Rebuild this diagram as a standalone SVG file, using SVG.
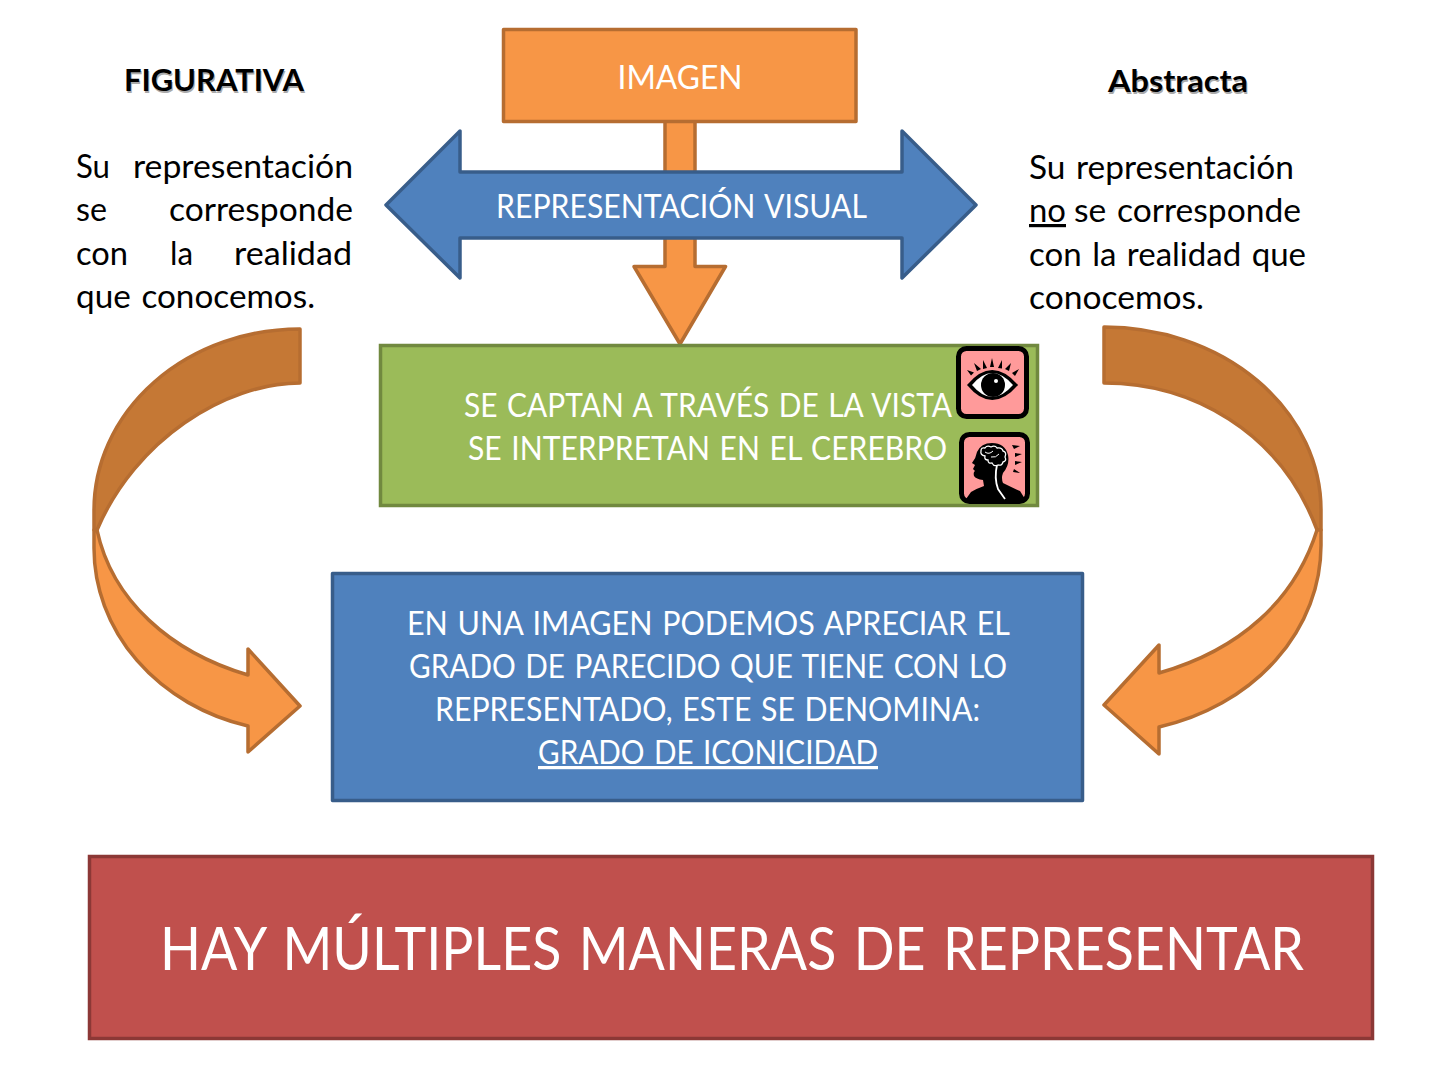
<svg xmlns="http://www.w3.org/2000/svg" width="1437" height="1078" viewBox="0 0 1437 1078">
<style>
text{font-family:Lato,"Open Sans","Liberation Sans",sans-serif;word-spacing:2px}
.w{fill:#fff;font-size:32px}
.k{fill:#000;font-size:32px}
.h{fill:#000;font-size:30px;font-weight:bold;}
.sh{fill:#aaa;font-size:30px;font-weight:bold;}
.or{fill:#F79646;stroke:#B66D31;stroke-width:3.5;stroke-linejoin:round}
.dk{fill:#C57835;stroke:#B66D31;stroke-width:3.5;stroke-linejoin:round}
.bl{fill:#4F81BD;stroke:#385D8A;stroke-width:3.5;stroke-linejoin:round}
.gr{fill:#9BBB59;stroke:#71893F;stroke-width:3.5}
.rd{fill:#C0504D;stroke:#8C3836;stroke-width:3.5}
.ic{fill:#FF9A9A;stroke:#000;stroke-width:5}
</style>
<rect width="1437" height="1078" fill="#fff"/>
<g id="connectors">
<path class="or" d="M665,121V266.500H634L680,344L725.500,266.500H695V121Z"/>
<path class="dk" d="M300,329A206,181 0 0 0 94,510V530H97C135,440 225,383 300,383Z"/>
<path class="or" d="M94,530V548A206,184 0 0 0 248,726V752L300,706L248,649V675C170,652 112,600 97,530Z"/>
<path class="dk" d="M1104,327A217,183 0 0 1 1321,510V530H1317C1280,430 1190,383 1104,383Z"/>
<path class="or" d="M1321,530V545A217,188 0 0 1 1159,727V754L1104,705L1159,645V673C1240,650 1295,600 1317,530Z"/>
</g>
<g id="imagen">
<rect class="or" x="503.500" y="29.500" width="352.500" height="92"/>
<text class="w" x="617.500" y="89" textLength="125" lengthAdjust="spacingAndGlyphs">IMAGEN</text>
</g>
<g id="representacion">
<path class="bl" d="M386,205L460,131V172H902V131L976,205L902,278V238H460V278Z"/>
<text class="w" x="496" y="218" textLength="371" lengthAdjust="spacingAndGlyphs">REPRESENTACIÓN VISUAL</text>
</g>
<g id="figurativa">
<text class="sh" x="125" y="93" textLength="180" lengthAdjust="spacingAndGlyphs">FIGURATIVA</text>
<text class="h" x="124" y="91" textLength="180" lengthAdjust="spacingAndGlyphs">FIGURATIVA</text>
<text class="k" x="76" y="178" textLength="34" lengthAdjust="spacingAndGlyphs">Su</text>
<text class="k" x="133" y="178" textLength="220" lengthAdjust="spacingAndGlyphs">representación</text>
<text class="k" x="76" y="221" textLength="31" lengthAdjust="spacingAndGlyphs">se</text>
<text class="k" x="169" y="221" textLength="184" lengthAdjust="spacingAndGlyphs">corresponde</text>
<text class="k" x="76" y="265" textLength="52" lengthAdjust="spacingAndGlyphs">con</text>
<text class="k" x="170" y="265" textLength="23" lengthAdjust="spacingAndGlyphs">la</text>
<text class="k" x="234" y="265" textLength="118" lengthAdjust="spacingAndGlyphs">realidad</text>
<text class="k" x="76" y="308" textLength="239" lengthAdjust="spacingAndGlyphs">que conocemos.</text>
</g>
<g id="abstracta">
<text class="sh" x="1109" y="94" textLength="140" lengthAdjust="spacingAndGlyphs">Abstracta</text>
<text class="h" x="1108" y="92" textLength="140" lengthAdjust="spacingAndGlyphs">Abstracta</text>
<text class="k" x="1029" y="179" textLength="265" lengthAdjust="spacingAndGlyphs">Su representación</text>
<text class="k" x="1029" y="222" textLength="37" lengthAdjust="spacingAndGlyphs" text-decoration="underline">no</text>
<text class="k" x="1074" y="222" textLength="227" lengthAdjust="spacingAndGlyphs">se corresponde</text>
<text class="k" x="1029" y="266" textLength="277" lengthAdjust="spacingAndGlyphs">con la realidad que</text>
<text class="k" x="1029" y="309" textLength="175" lengthAdjust="spacingAndGlyphs">conocemos.</text>
</g>
<g id="vista">
<rect class="gr" x="380.500" y="345.500" width="657" height="160"/>
<text class="w" x="464" y="417" textLength="488" lengthAdjust="spacingAndGlyphs">SE CAPTAN A TRAVÉS DE LA VISTA</text>
<text class="w" x="468" y="460" textLength="479" lengthAdjust="spacingAndGlyphs">SE INTERPRETAN EN EL CEREBRO</text>
</g>
<g id="icono-ojo">
<rect class="ic" x="958.500" y="348.500" width="68" height="68" rx="8"/>
<path d="M967,385Q992,355 1018,385Q992,415 967,385Z" fill="#000"/>
<path d="M972,385Q992,361 1013,385Q992,409 972,385Z" fill="#fff"/>
<circle cx="993" cy="385" r="12" fill="#000"/>
<circle cx="996" cy="381" r="2" fill="#fff"/>
<path d="M967,370L974,372.500L971,375.500ZM974,363L981,369L977,371ZM983,360L987,368L983,369ZM992,358L994,367L990,367ZM1002,360L1002,368.500L998,368ZM1011,363L1009,371L1005,369ZM1019,369L1015,376L1012,373Z" fill="#000"/>
</g>
<g id="icono-cerebro">
<rect class="ic" x="961.500" y="434.500" width="66" height="67" rx="8"/>
<path d="M966,499L971,492Q978,488 984,486L983,480Q976,479 974,476Q973,472 975,471L973,469L975,465L972,463Q976,458 977,452Q981,443 992,443Q1005,443 1008,455Q1010,465 1003,473Q1001,478 1003,483Q1013,488 1020,491L1025,499Z" fill="#000"/>
<path d="M981,451Q981,447 985,448Q987,445 991,447Q995,445 997,448Q1002,447 1003,451Q1007,452 1005,457Q1007,461 1003,462Q1002,466 998,465Q994,467 992,463Q988,464 988,460Q984,460 985,456Q980,455 981,451Z" fill="none" stroke="#fff" stroke-width="1.300"/>
<path d="M985,452Q989,455 993,451M991,457Q996,458 999,454" fill="none" stroke="#fff" stroke-width="1"/>
<path d="M997,465Q994,478 998,489L1005,499" fill="none" stroke="#fff" stroke-width="1.800"/>
<path d="M1012,445L1020,446L1014,449ZM1015,453L1022,454L1015,457ZM1015,461L1022,462L1015,465ZM1014,469L1020,473L1013,472Z" fill="#000"/>
</g>
<g id="iconicidad">
<rect class="bl" x="332.500" y="573.500" width="750" height="227"/>
<text class="w" x="407" y="635" textLength="603" lengthAdjust="spacingAndGlyphs">EN UNA IMAGEN PODEMOS APRECIAR EL</text>
<text class="w" x="409" y="678" textLength="598" lengthAdjust="spacingAndGlyphs">GRADO DE PARECIDO QUE TIENE CON LO</text>
<text class="w" x="435" y="721" textLength="545" lengthAdjust="spacingAndGlyphs">REPRESENTADO, ESTE SE DENOMINA:</text>
<text class="w" x="538" y="764" textLength="340" lengthAdjust="spacingAndGlyphs" text-decoration="underline">GRADO DE ICONICIDAD</text>
</g>
<g id="maneras">
<rect class="rd" x="89.500" y="856.500" width="1283" height="182"/>
<text class="w" x="160" y="970" textLength="1144" lengthAdjust="spacingAndGlyphs" style="font-size:60px;word-spacing:4px">HAY MÚLTIPLES MANERAS DE REPRESENTAR</text>
</g>
</svg>
